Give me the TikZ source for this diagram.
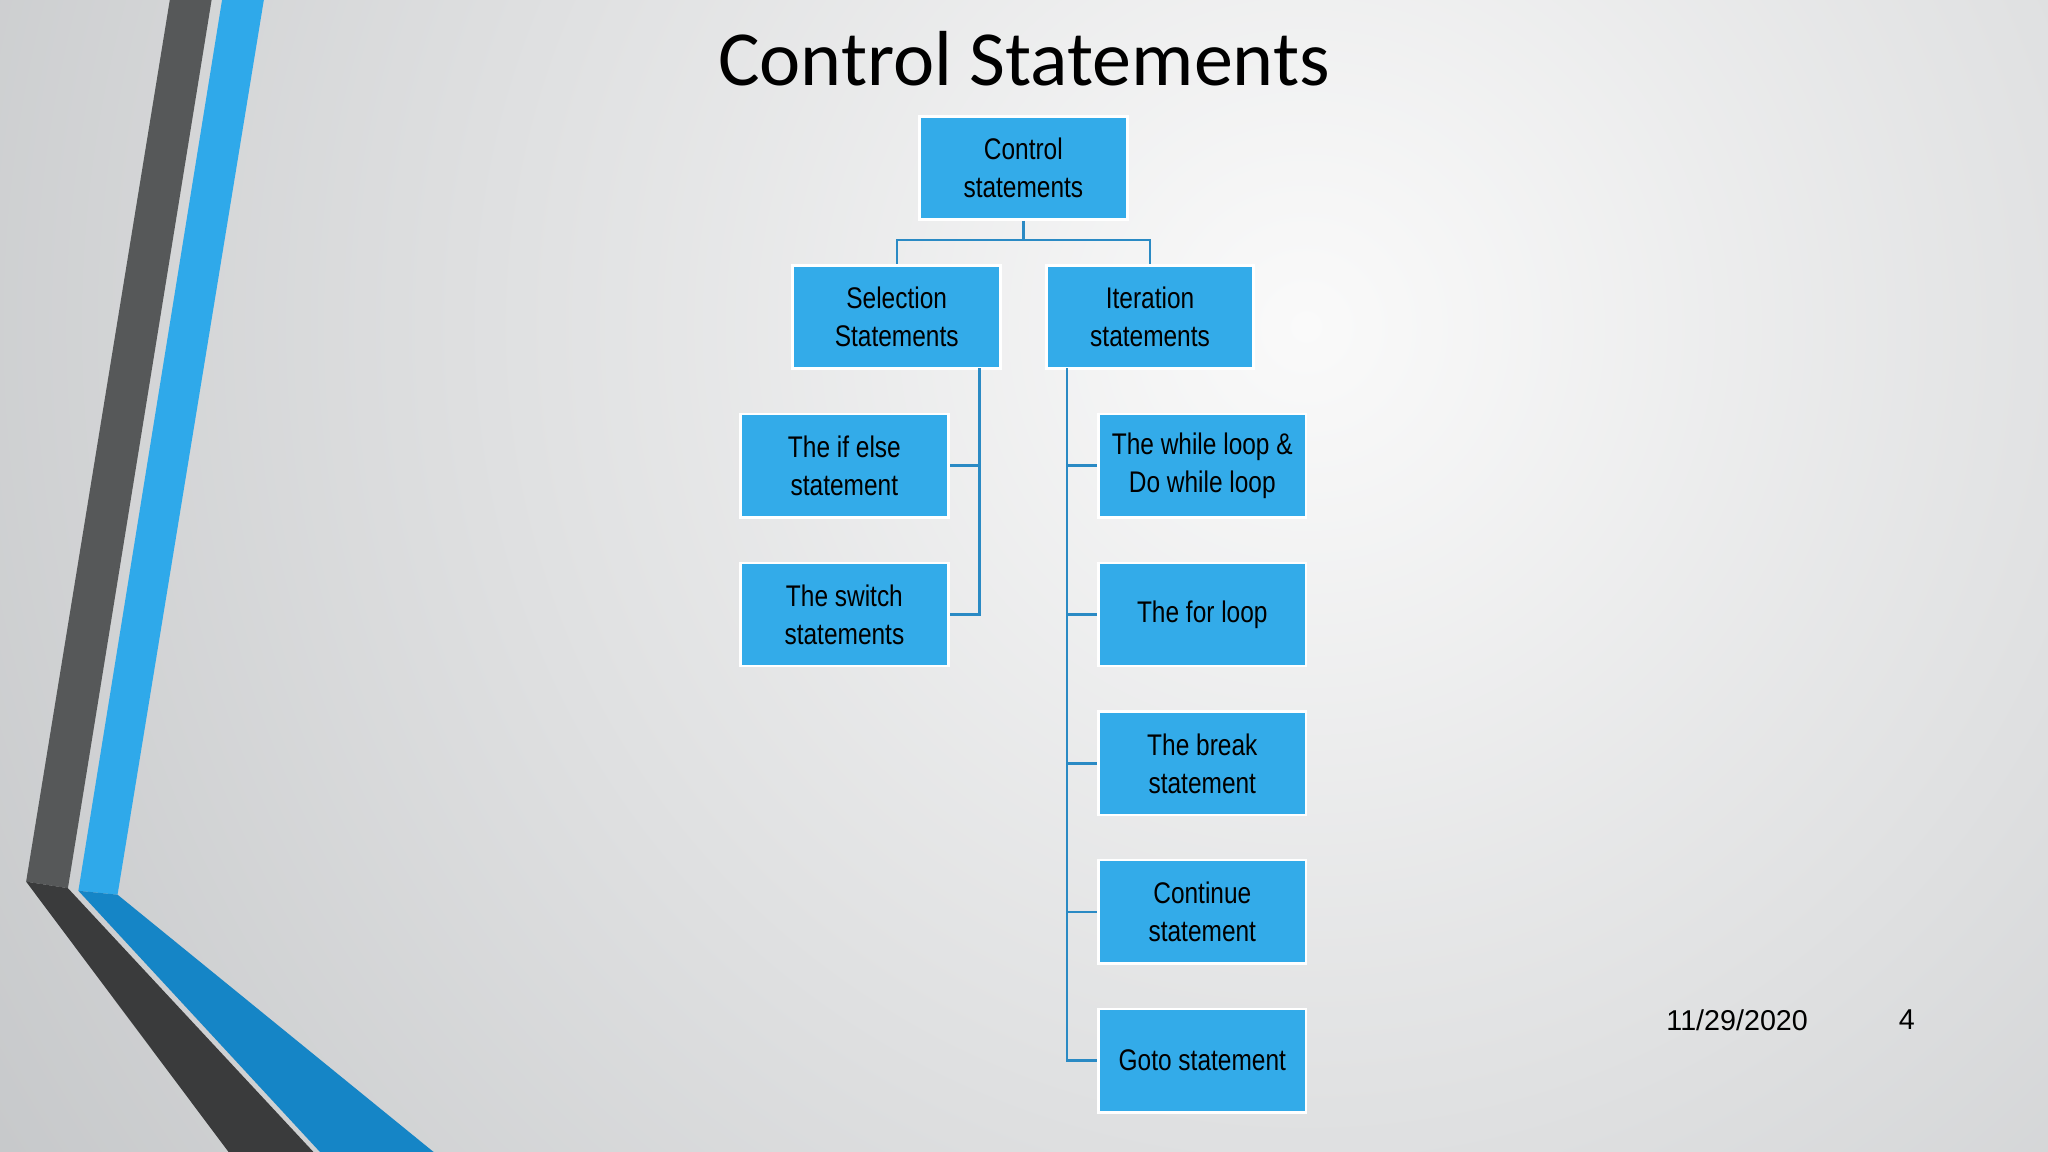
\documentclass[tikz,border=0pt]{standalone}
\usepackage{fontspec}
\setmainfont{Liberation Sans}
\newfontfamily\narrowf[FakeStretch=0.82]{Liberation Sans}
\newfontfamily\titlef{Carlito}
\definecolor{boxblue}{HTML}{33ABE9}
\definecolor{linec}{HTML}{2A8AC4}
\definecolor{dgray}{HTML}{565859}
\definecolor{dgray2}{HTML}{3A3B3C}
\definecolor{sblue}{HTML}{2FA9EA}
\definecolor{sblue2}{HTML}{1585C6}
\definecolor{bgin}{HTML}{FAFAFA}
\definecolor{bgout}{HTML}{C4C6C8}
\begin{document}
\begin{tikzpicture}[x=0.02cm,y=-0.02cm,
  bx/.style={draw=white,line width=1.2pt,fill=boxblue,minimum width=3.18cm,minimum height=1.58cm,align=center,font=\narrowf\fontsize{13}{16.5}\selectfont,text=black,inner sep=1pt},
  cn/.style={draw=linec,line width=1pt}]
\begin{scope}
\clip (0,0) rectangle (1568,882);
\shade[inner color=bgin,outer color=bgout] (1000,250) circle (1250);
\end{scope}
\useasboundingbox (0,0) rectangle (1568,882);
% left decoration
\fill[dgray] (130,0)--(162,0)--(52,680)--(20,675)--cycle;
\fill[dgray2] (20,675)--(52,680)--(240,882)--(175,882)--cycle;
\fill[sblue] (170,0)--(202,0)--(90,685)--(60,682)--cycle;
\fill[sblue2] (60,682)--(90,685)--(332,882)--(245,882)--cycle;
\node[font=\titlef\fontsize{34}{40}\selectfont] (title) at (784,45) {Control Statements};
\node[bx] (root) at (783.5,128.5) {Control\\statements};
\node[bx] (sel) at (686.5,242.5) {Selection\\Statements};
\node[bx] (ite) at (880.5,242.5) {Iteration\\statements};
\node[bx] (ife) at (646.5,356.5) {The if else\\statement};
\node[bx] (sw) at (646.5,470.5) {The switch\\statements};
\node[bx] (wh) at (920.5,356.5) {The while loop \&\\Do while loop};
\node[bx] (for) at (920.5,470.5) {The for loop};
\node[bx] (brk) at (920.5,584.5) {The break\\statement};
\node[bx] (cont) at (920.5,698) {Continue\\statement};
\node[bx] (goto) at (920.5,812) {Goto statement};
\coordinate (j) at (783.5,184);
\draw[cn] (root.south) -- (j);
\draw[cn] (sel.north) -- (686.5,184) -- (880.5,184) -- (ite.north);
\draw[cn] (750,282) -- (750,470.5) -- (sw.east);
\draw[cn] (750,356.5) -- (ife.east);
\draw[cn] (817,282) -- (817,812) -- (goto.west);
\foreach \n in {wh,for,brk,cont} \draw[cn] (817,0 |- \n.west) -- (\n.west);
\node[font=\fontsize{12.5}{15}\selectfont] (date) at (1330,781) {11/29/2020};
\node[font=\fontsize{12.5}{15}\selectfont] (pg) at (1460,781) {4};
\end{tikzpicture}
\end{document}
